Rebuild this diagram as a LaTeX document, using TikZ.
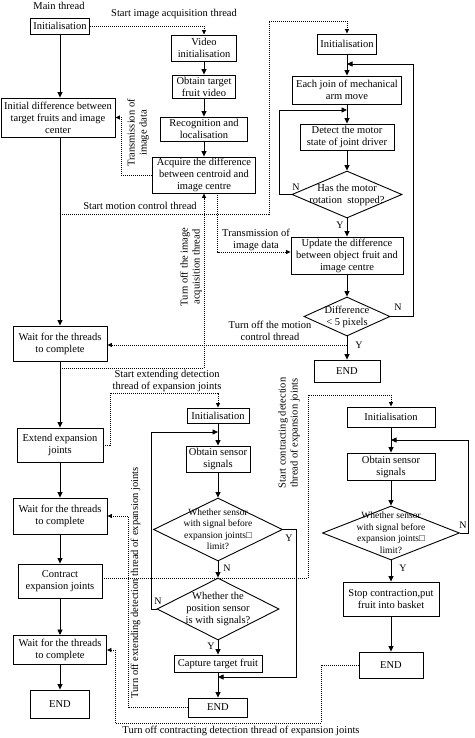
\documentclass[tikz,border=0pt]{standalone}
\usepackage{fontspec}
\setmainfont{Liberation Serif}
\usetikzlibrary{arrows.meta,shapes.geometric,calc}
\begin{document}
\begin{tikzpicture}[x=1pt,y=-1pt,
  font=\fontsize{10.5}{12}\selectfont,
  box/.style={draw, line width=0.9pt, inner sep=1pt, align=center},
  dia/.style={draw, line width=0.9pt, diamond, inner sep=0pt},
  arr/.style={line width=0.8pt, -{Triangle[length=5.5pt,width=5pt]}},
  dot/.style={line width=0.8pt, dash pattern=on 1pt off 1pt, -{Triangle[length=4.5pt,width=4pt]}},
  lab/.style={inner sep=0pt, align=center},
  yn/.style={inner sep=0pt, font=\fontsize{10}{12}\selectfont},
  smalltxt/.style={font=\fontsize{9.5}{11.5}\selectfont}
]
\useasboundingbox (0,0) rectangle (474,738);

% main thread
\node[box, minimum width=59, minimum height=16] (mInit) at (60,26) {Initialisation};
\node[box, minimum width=114, minimum height=39] (mDiff) at (58,117.5) {Initial difference between\\target fruits and image\\center};
\node[box, minimum width=94, minimum height=35] (mWait1) at (60,343.5) {Wait for the threads\\to complete};
\node[box, minimum width=86, minimum height=34] (mExt) at (60,445) {Extend expansion\\joints};
\node[box, minimum width=94, minimum height=36] (mWait2) at (60,516) {Wait for the threads\\to complete};
\node[box, minimum width=84, minimum height=34] (mCon) at (60,581) {Contract\\expansion joints};
\node[box, minimum width=93, minimum height=29] (mWait3) at (60,650) {Wait for the threads\\to complete};
\node[box, minimum width=59, minimum height=28] (mEnd) at (60,704) {END};

% image acquisition thread
\node[box, minimum width=65, minimum height=26] (iVid) at (204,48) {Video\\initialisation};
\node[box, minimum width=63, minimum height=23] (iObt) at (204,86.5) {Obtain target\\fruit video};
\node[box, minimum width=87, minimum height=24] (iRec) at (204,129) {Recognition and\\localisation};
\node[box, minimum width=103, minimum height=36] (iAcq) at (204,175) {Acquire the difference\\between centroid and\\image centre};

% motion control thread
\node[box, minimum width=59, minimum height=20] (tInit) at (347,44) {Initialisation};
\node[box, minimum width=109, minimum height=28] (tEach) at (347,90) {Each join of mechanical\\arm move};
\node[box, minimum width=94, minimum height=26] (tDet) at (347,137) {Detect the motor\\state of joint driver};
\node[dia, minimum width=110, minimum height=47, label={[lab]center:{Has the motor\\rotation\ \ stopped?}}] (tDia) at (347,194.5) {};
\node[box, minimum width=112, minimum height=37] (tUpd) at (347,255.5) {Update the difference\\between object fruit and\\image centre};
\node[dia, minimum width=86, minimum height=39, label={[lab]center:{Difference\\< 5 pixels}}] (tDif) at (347,316.5) {};
\node[box, minimum width=66, minimum height=22] (tEnd) at (347,371) {END};

% extending detection thread
\node[box, minimum width=62, minimum height=15] (eInit) at (218,415.5) {Initialisation};
\node[box, minimum width=64, minimum height=26] (eObt) at (218,459) {Obtain sensor\\signals};
\node[dia, minimum width=129, minimum height=63, label={[lab,smalltxt]center:{Whether sensor\\with signal before\\expansion joints□\\limit?}}] (eDia1) at (218,529.5) {};
\node[dia, minimum width=122, minimum height=62, label={[lab]center:{Whether the\\position sensor\\is with signals?}}] (eDia2) at (218,609) {};
\node[box, minimum width=88, minimum height=17] (eCap) at (218,663.5) {Capture target fruit};
\node[box, minimum width=59, minimum height=19] (eEnd) at (218,707.5) {END};

% contracting detection thread
\node[box, minimum width=88, minimum height=20] (cInit) at (391,417) {Initialisation};
\node[box, minimum width=88, minimum height=27] (cObt) at (391,466.5) {Obtain sensor\\signals};
\node[dia, minimum width=137, minimum height=54, label={[lab,smalltxt]center:{Whether sensor\\with signal before\\expansion joints□\\limit?}}] (cDia) at (391,533) {};
\node[box, minimum width=96, minimum height=34] (cStop) at (391,599) {Stop contraction,put\\fruit into basket};
\node[box, minimum width=64, minimum height=26] (cEnd) at (391,665) {END};

% junction coordinates
\coordinate (smc) at (60,214);
\coordinate (toi) at (60,368);
\coordinate (tm) at (347,345);
\coordinate (j1) at (347,64);
\coordinate (j2) at (347,110);
\coordinate (j3) at (218,432);
\coordinate (j4) at (218,677);
\coordinate (j5) at (391,440);

% main solid arrows
\draw[arr] (mInit.south) -- (mInit.south |- mDiff.north);
\draw[arr] (mInit.south |- mDiff.south) -- (mWait1.north);
\draw[arr] (mWait1.south) -- (mExt.north);
\draw[arr] (mExt.south) -- (mWait2.north);
\draw[arr] (mWait2.south) -- (mCon.north);
\draw[arr] (mCon.south) -- (mWait3.north);
\draw[arr] (mWait3.south) -- (mEnd.north);

\draw[arr] (iVid.south) -- (iObt.north);
\draw[arr] (iObt.south) -- (iRec.north);
\draw[arr] (iRec.south) -- (iAcq.north);

\draw[arr] (tInit.south) -- (tEach.north);
\draw[arr] (tEach.south) -- (tDet.north);
\draw[arr] (tDet.south) -- (tDia.north);
\draw[arr] (tDia.south) -- (tUpd.north);
\draw[arr] (tUpd.south) -- (tDif.north);
\draw[arr] (tDif.south) -- (tEnd.north);
\draw[arr] (tDif.east) -| (413,64) -- (j1);
\draw[arr] (tDia.west) -| (279,110) -- (j2);

\draw[arr] (eInit.south) -- (eObt.north);
\draw[arr] (eObt.south) -- (eDia1.north);
\draw[arr] (eDia1.south) -- (eDia2.north);
\draw[arr] (eDia2.south) -- (eCap.north);
\draw[arr] (eCap.south) -- (eEnd.north);
\draw[arr] (eDia2.west) -| (151,432) -- (j3);
\draw[arr] (eDia1.east) -| (296,677) -- (j4);

\draw[arr] (cInit.south) -- (cObt.north);
\draw[arr] (cObt.south) -- (cDia.north);
\draw[arr] (cDia.south) -- (cStop.north);
\draw[arr] (cStop.south) -- (cEnd.north);
\draw[arr] (cDia.east) -| (468,440) -- (j5);

% dotted thread connectors
\draw[dot] (mInit.east) -| (iVid.north);
\draw[dot] (iAcq.west) -- ++(-31,0) |- (mDiff.east);
\draw[dot] (smc) -| (269,21) -| (tInit.north);
\draw[dot] ($(iAcq.south)+(13.5,0)$) |- ($(tUpd.west)+(0,-3.5)$);
\draw[dot] (toi) -| (iAcq.south);
\draw[dot] (tm) -- (tm -| mWait1.east);
\draw[dot] (mExt.east) -- (110,445) |- (218,393) -- (eInit.north);
\draw[dot] (eEnd.west) -| (128,516) -- (mWait2.east);
\draw[dot] ($(mCon.east)+(0,-3)$) -| (308,395) -| (cInit.north);
\draw[dot] (cEnd.west) -| (321,723) -| (115,650) -- (mWait3.east);

% text labels
\node[lab] (lMain) at (59,6) {Main thread};
\node[lab] (lSia) at (174,14) {Start image acquisition thread};
\node[lab, rotate=90] (lTr1) at (138,133) {Transmission of\\image data};
\node[lab] (lSmc) at (140,206) {Start motion control thread};
\node[lab] (lTr2) at (256,240) {Transmission of\\image data};
\node[lab, rotate=90] (lToi) at (191,267) {Turn off the image\\acquisition thread};
\node[lab] (lTom) at (270,331) {Turn off the motion\\control thread};
\node[lab] (lSed) at (167,381) {Start extending detection\\thread of expansion joints};
\node[lab, rotate=90] (lTed) at (135.5,583) {Turn off extending detection thread of expansion joints};
\node[lab, rotate=90] (lScd) at (289,433) {Start contracting detection\\thread of expansion joints};
\node[lab] (lTcd) at (241,731) {Turn off contracting detection thread of expansion joints};

% Y / N labels
\node[yn] (n1) at (296,187) {N};
\node[yn] (y1) at (340,225) {Y};
\node[yn] (n2) at (398,307) {N};
\node[yn] (y2) at (359,345) {Y};
\node[yn] (y3) at (289,538) {Y};
\node[yn] (n3) at (227,568) {N};
\node[yn] (n4) at (158,601) {N};
\node[yn] (y4) at (211,646) {Y};
\node[yn] (n5) at (463,525) {N};
\node[yn] (y5) at (403,568) {Y};
\end{tikzpicture}
\end{document}
